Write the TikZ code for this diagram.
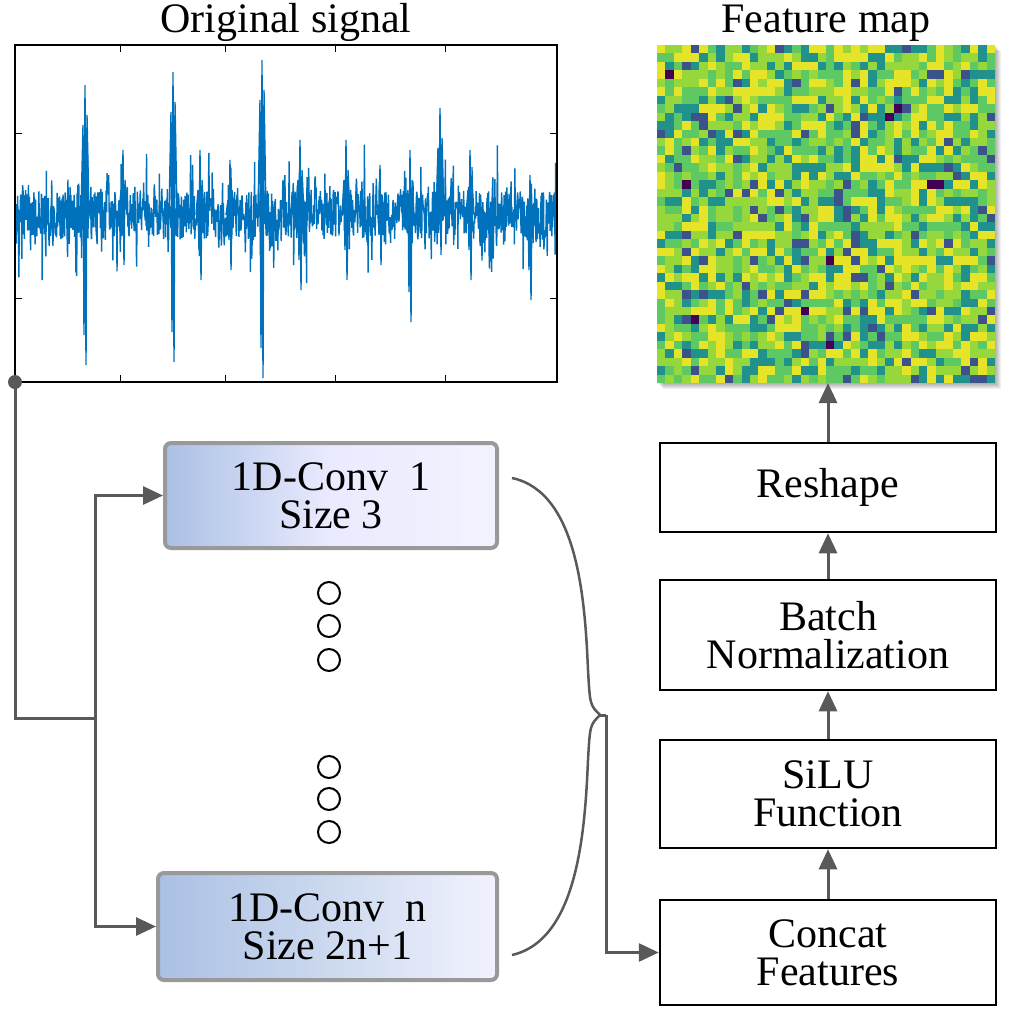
\documentclass[tikz,border=0pt]{standalone}
\usepackage{fontspec}
\setmainfont{Liberation Serif}
\usetikzlibrary{arrows.meta}
\definecolor{sigblue}{RGB}{0,114,189}
\definecolor{boxblue}{RGB}{170,192,228}
\definecolor{lnk}{gray}{0.35}
\definecolor{vc0}{RGB}{68,1,84}
\definecolor{vc1}{RGB}{59,82,139}
\definecolor{vc2}{RGB}{33,145,140}
\definecolor{vc3}{RGB}{94,201,98}
\definecolor{vc4}{RGB}{150,215,60}
\definecolor{vc5}{RGB}{230,228,40}
\tikzset{
  lbl/.style={font=\fontsize{42}{46}\selectfont, align=center},
  flowbox/.style={draw=black, line width=2.5pt, minimum width=336pt, inner sep=0pt, lbl},
  convbox/.style={draw=gray!80, line width=4pt, rounded corners=6pt, inner sep=0pt, lbl},
  conn/.style={draw=lnk, line width=3pt},
  arr/.style={conn, -{Triangle[length=20pt,width=18pt]}},
  dotc/.style={circle, draw=black, line width=2pt, minimum size=22pt, inner sep=0pt},
}
\begin{document}
\begin{tikzpicture}[x=1pt,y=-1pt]
\useasboundingbox (0,0) rectangle (1025,1015);
\pgfmathsetseed{7}
% titles
\node[lbl, anchor=base] (t1) at (286,32) {Original signal};
\node[lbl, anchor=base] (t2) at (826,32) {Feature map};
% signal plot
\begin{scope}
\clip (15,45) rectangle (557,382);
\draw[sigblue, line width=1.4pt, line join=bevel] plot[domain=16:556, samples=1300] (\x, {215+(24+50*rnd^5)*rand});
\foreach \sx/\up/\dn in {85/85/365, 173/72/362, 262/60/378, 530/175/300, 410/150/322, 440/108/255, 123/150/265, 200/150/280, 300/140/290, 470/150/280, 346/140/280, 230/160/270, 380/165/265} {
  \draw[sigblue, line width=1.4pt, line join=bevel] (\sx-4,215) -- (\sx-2,\up+40) -- (\sx-1,\dn-30) -- (\sx,\up) -- (\sx+1,\dn) -- (\sx+2,\up+30) -- (\sx+4,215);
}
\end{scope}
\node[draw=black, line width=1.2pt, minimum width=542pt, minimum height=337pt, inner sep=0pt] (plot) at (286,213.5) {};
\foreach \yy in {133,298} {\draw[line width=1pt] (15,\yy) -- (22,\yy); \draw[line width=1pt] (557,\yy) -- (550,\yy);}
\foreach \xx in {120,225,335,445} {\draw[line width=1pt] (\xx,382) -- (\xx,375); \draw[line width=1pt] (\xx,45) -- (\xx,52);}
\fill[lnk] (15,382) circle (7) coordinate (src);
% feature map
\foreach \k in {1,...,6} {\fill[black, opacity=0.06] (657+\k,45+\k) rectangle (995+\k,383+\k);}
\foreach \i in {0,...,39} {
  \foreach \j in {0,...,39} {
    \pgfmathsetmacro\r{rnd}
    \pgfmathtruncatemacro\idx{\r<0.006 ? 0 : (\r<0.07 ? 1 : (\r<0.27 ? 2 : (\r<0.5 ? 3 : (\r<0.75 ? 4 : 5))))}
    \fill[vc\idx] ({657+\i*8.45},{45+\j*8.45}) rectangle ({657+(\i+1)*8.45+0.2},{45+(\j+1)*8.45+0.2});
  }
}
\coordinate (fm) at (828,383);
% conv boxes
\node[convbox, minimum width=332pt, minimum height=105pt, left color=boxblue, right color=white!95!blue, middle color=white!92!blue] (c1) at (331,495.5) {1D-Conv\ \ 1\\[-8pt]Size 3};
\node[convbox, minimum width=339pt, minimum height=107pt, left color=boxblue, right color=white!95!blue, middle color=boxblue!60] (cn) at (327.5,926.5) {1D-Conv\ \ n\\[-8pt]Size 2n+1};
\foreach \yy/\nm in {593/d1,626/d2,660/d3,767/d4,799/d5,832/d6} {\node[dotc] (\nm) at (329,\yy) {};}
% input lines
\coordinate (j1) at (15,718);
\coordinate (j2) at (95,718);
\draw[conn] (src) -- (j1) -- (j2);
\draw[arr] (j2) |- (c1.west);
\draw[arr] (j2) |- (cn.west);
% brace
\coordinate (tip) at (600,715);
\draw[conn, line width=2.5pt] (512,478) .. controls (578,492) and (585,600) .. (588,670) .. controls (590,705) .. (tip);
\draw[conn, line width=2.5pt] (512,955) .. controls (578,940) and (585,830) .. (588,760) .. controls (590,725) .. (tip);
% right column
\node[flowbox, minimum height=89pt] (rs) at (828,487.5) {Reshape};
\node[flowbox, minimum height=110pt] (bn) at (828,635) {Batch\\[-8pt]Normalization};
\node[flowbox, minimum height=108pt] (si) at (828,794) {SiLU\\[-8pt]Function};
\node[flowbox, minimum height=105pt] (cc) at (828,952.5) {Concat\\[-8pt]Features};
\draw[conn] (tip) -- (606,715);
\draw[arr] (606,715) |- (cc.west);
\draw[arr] (cc.north) -- (si.south);
\draw[arr] (si.north) -- (bn.south);
\draw[arr] (bn.north) -- (rs.south);
\draw[arr] (rs.north) -- (fm);
\end{tikzpicture}
\end{document}
